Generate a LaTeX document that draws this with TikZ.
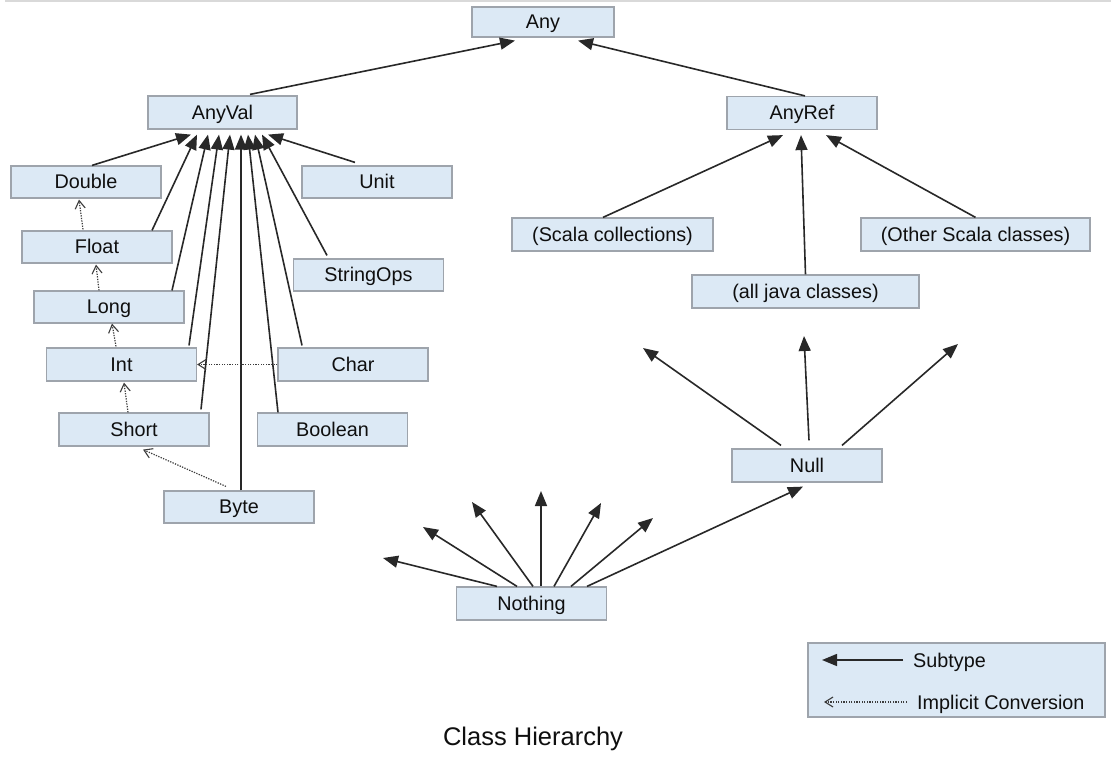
\documentclass[tikz,border=0pt]{standalone}
\usepackage{fontspec}
\setmainfont{Liberation Sans}
\usetikzlibrary{arrows.meta,calc}
\definecolor{boxfill}{RGB}{220,233,245}
\definecolor{boxline}{RGB}{158,164,172}
\definecolor{linecol}{RGB}{40,40,40}
\definecolor{dotcol}{RGB}{60,60,60}
\definecolor{txtcol}{RGB}{15,15,15}
\begin{document}
\begin{tikzpicture}[x=1pt,y=-1pt,
  cls/.style={draw=boxline, line width=1.2pt, fill=boxfill, minimum width=150pt,
    minimum height=33pt, inner sep=0pt, text=txtcol,
    font=\fontsize{19.8}{23}\selectfont, text height=14pt, text depth=0.5pt},
  sub/.style={draw=linecol, line width=1.6pt, -{Triangle[length=15pt,width=12pt]}},
  imp/.style={draw=dotcol, line width=1.2pt, dash pattern=on 1.3pt off 1.3pt,
    -{Straight Barb[length=8pt,width=10pt,line width=1.1pt]}},
  lbl/.style={text=txtcol, font=\fontsize{19.8}{23}\selectfont, inner sep=0pt}
]
\useasboundingbox (0,0) rectangle (1111,766);
\fill[white] (0,0) rectangle (1111,766);
\draw[black!15, line width=1.5pt] (5,0.75) -- (1111,0.75);

% class boxes
\node[cls, minimum width=142pt, minimum height=30pt] (any) at (543,22) {Any};
\node[cls, minimum width=149pt] (anyval) at (222.5,112.5) {AnyVal};
\node[cls] (anyref) at (802,113) {AnyRef};
\node[cls, minimum height=32pt] (double) at (86,182) {Double};
\node[cls, minimum height=32pt] (unit) at (377,182) {Unit};
\node[cls, minimum height=32pt] (float) at (97,247) {Float};
\node[cls, minimum height=32pt] (stringops) at (368.5,275) {StringOps};
\node[cls, minimum height=32pt] (long) at (109,307) {Long};
\node[cls] (int) at (121.5,364.5) {Int};
\node[cls] (char) at (353,364.5) {Char};
\node[cls] (short) at (134,429.5) {Short};
\node[cls] (boolean) at (332.5,429.5) {Boolean};
\node[cls, minimum height=32pt] (byte) at (239,507) {Byte};
\node[cls, minimum width=201pt] (scalacoll) at (612.5,234.5) {(Scala collections)};
\node[cls, minimum width=227pt] (java) at (805.5,291.5) {(all java classes)};
\node[cls, minimum width=229pt] (other) at (975.5,234.5) {(Other Scala classes)};
\node[cls] (nullnode) at (807,465.5) {Null};
\node[cls] (nothing) at (531.5,603.5) {Nothing};

% top level
\draw[sub] ($(anyval.north)+(27.5,-1)$) -- ($(any.south)+(-28,3)$);
\draw[sub] ($(anyref.north)+(3,0)$) -- ($(any.south)+(35,3)$);

% AnyVal subtypes
\draw[sub] ($(double.north)+(6,0)$) -- ($(anyval.south)+(-31.5,5)$);
\draw[sub] ($(float.north)+(55,0)$) -- ($(anyval.south)+(-25.5,5)$);
\draw[sub] ($(long.north)+(63,0)$) -- ($(anyval.south)+(-14.5,5)$);
\draw[sub] ($(int.north)+(67.5,-2)$) -- ($(anyval.south)+(-3.5,5)$);
\draw[sub] ($(short.north)+(67,-3)$) -- ($(anyval.south)+(7.5,5)$);
\draw[sub] ($(byte.north)+(2,0)$) -- ($(anyval.south)+(18.5,5)$);
\draw[sub] ($(boolean.north)+(-54.5,0)$) -- ($(anyval.south)+(25.5,5)$);
\draw[sub] ($(char.north)+(-51,-2)$) -- ($(anyval.south)+(32.5,5)$);
\draw[sub] ($(stringops.north)+(-41.5,-3)$) -- ($(anyval.south)+(39.5,5)$);
\draw[sub] ($(unit.north)+(-22,-3)$) -- ($(anyval.south)+(45.5,5)$);

% implicit conversions
\draw[imp] ($(float.north)+(-14,-1)$) -- ($(double.south)+(-7,1)$);
\draw[imp] ($(long.north)+(-10,0)$) -- ($(float.south)+(-1,1)$);
\draw[imp] ($(int.north)+(-5.5,-1)$) -- ($(long.south)+(3,0)$);
\draw[imp] ($(short.north)+(-6,0)$) -- ($(int.south)+(2.5,1)$);
\draw[imp] (char.west) -- (int.east);
\draw[imp] ($(byte.north)+(-13,-4)$) -- ($(short.south)+(9,3)$);

% AnyRef subtypes
\draw[sub] ($(scalacoll.north)+(-9.5,0)$) -- ($(anyref.south)+(-19,5)$);
\draw[sub] (java.north) -- ($(anyref.south)+(-1,5)$);
\draw[sub] (other.north) -- ($(anyref.south)+(24,5)$);

% Null
\coordinate (n1) at (643,348);
\coordinate (n2) at (804,336);
\coordinate (n3) at (958,344);
\draw[sub] ($(nullnode.north)+(-26,-3)$) -- (n1);
\draw[sub] ($(nullnode.north)+(2,-8)$) -- (n2);
\draw[sub] ($(nullnode.north)+(35,-3)$) -- (n3);

% Nothing
\coordinate (m1) at (383,558);
\coordinate (m2) at (423,527);
\coordinate (m3) at (472,502);
\coordinate (m4) at (541,491);
\coordinate (m5) at (601,503);
\coordinate (m6) at (653,518);
\draw[sub] ($(nothing.north)+(-34.5,0)$) -- (m1);
\draw[sub] ($(nothing.north)+(-14.5,0)$) -- (m2);
\draw[sub] ($(nothing.north)+(1.5,0)$) -- (m3);
\draw[sub] ($(nothing.north)+(9.5,0)$) -- (m4);
\draw[sub] ($(nothing.north)+(22.5,0)$) -- (m5);
\draw[sub] ($(nothing.north)+(39.5,0)$) -- (m6);
\draw[sub] ($(nothing.north)+(55.5,0)$) -- ($(nullnode.south)+(-4,4)$);

% legend
\node[cls, minimum width=297pt, minimum height=74pt] (legend) at (956.5,680) {};
\node[lbl, anchor=base west] (legsub) at (913,667) {Subtype};
\node[lbl, anchor=base west] (legimp) at (917,709) {Implicit Conversion};
\coordinate (ls1) at (903,660);
\coordinate (ls2) at (822,660);
\coordinate (li1) at (907,702);
\coordinate (li2) at (824,702);
\draw[sub] (ls1) -- (ls2);
\draw[imp] (li1) -- (li2);

% caption
\node[text=txtcol, font=\fontsize{25.5}{30}\selectfont, inner sep=0pt, anchor=base] (caption) at (533,745) {Class Hierarchy};
\end{tikzpicture}
\end{document}
